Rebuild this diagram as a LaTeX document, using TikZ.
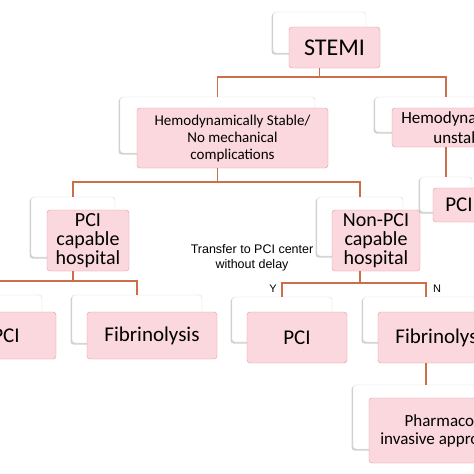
\documentclass[tikz,border=0pt]{standalone}
\usepackage{fontspec}
\setmainfont{Carlito}
\newfontfamily\notefont{Liberation Sans}
\usetikzlibrary{shadows}
\definecolor{cardfill}{RGB}{250,216,221}
\definecolor{cardline}{RGB}{230,150,160}
\definecolor{linkcol}{RGB}{205,110,75}
\newcommand{\fs}[1]{\fontsize{#1}{#1}\selectfont}

\begin{document}
\begin{tikzpicture}[x=1pt, y=-1pt,
  back/.style={draw=black!15, fill=white, rounded corners=3pt, inner sep=0pt,
    drop shadow={shadow xshift=-1.5pt, shadow yshift=-1.5pt, fill=black!30, opacity=0.6}},
  card/.style={draw=cardline, fill=cardfill, rounded corners=3pt, inner sep=0pt,
    align=center, text=black},
  link/.style={draw=linkcol, line width=1.3pt},
  note/.style={font=\notefont\fontsize{12.5}{15}\selectfont, align=center, text=black}]
  \useasboundingbox (0,0) rectangle (474,474);
  \clip (0,0) rectangle (474,474);
  % STEMI
  \node[back, minimum width=93, minimum height=41] (stemiB) at (319.5,32.5) {};
  \node[card, minimum width=91, minimum height=41, font=\fs{24}] (stemi) at (334.5,47.5) {STEMI};
  % stable branch
  \node[back, minimum width=195, minimum height=56] (stableB) at (217.5,125) {};
  \node[card, minimum width=191, minimum height=60, font=\fontsize{15}{17}\selectfont] (stable) at (232.5,138)
    {Hemodynamically Stable/\\No mechanical\\complications};
  % unstable branch
  \node[back, minimum width=142, minimum height=35] (unstableB) at (446,114.5) {};
  \node[card, minimum width=142, minimum height=39, font=\fontsize{17}{20}\selectfont] (unstable) at (463,127.5)
    {Hemodynamically\\unstable};
  \node[back, minimum width=52, minimum height=35] (pcicB) at (446,194.5) {};
  \node[card, minimum width=52, minimum height=34, font=\fs{21}] (pcic) at (459,205) {PCI};
  % PCI capable hospital
  \node[back, minimum width=84, minimum height=60] (pcihB) at (73,227) {};
  \node[card, minimum width=82, minimum height=61, font=\fontsize{20}{19}\selectfont] (pcih) at (88,240.5)
    {PCI\\capable\\hospital};
  % Non-PCI capable hospital
  \node[back, minimum width=86, minimum height=59] (nonpciB) at (360,226.5) {};
  \node[card, minimum width=88, minimum height=61, font=\fontsize{20}{19}\selectfont] (nonpci) at (376,240.5)
    {Non-PCI\\capable\\hospital};
  \node[note] (transfer) at (252,258) {Transfer to PCI center\\without delay};
  % treatments
  \node[back, minimum width=100, minimum height=48] (pciaB) at (-8,319) {};
  \node[card, minimum width=100, minimum height=47, font=\fs{21}] (pcia) at (6,335.5) {PCI};
  \node[back, minimum width=130, minimum height=48] (fibaB) at (137,319) {};
  \node[card, minimum width=130, minimum height=47, font=\fs{21}] (fiba) at (152,335.5) {Fibrinolysis};
  \node[back, minimum width=100, minimum height=45] (pcibB) at (282,319.5) {};
  \node[card, minimum width=100, minimum height=51, font=\fs{21}] (pcib) at (297,337.5) {PCI};
  \node[back, minimum width=126, minimum height=45] (fibbB) at (426,319.5) {};
  \node[card, minimum width=130, minimum height=51, font=\fs{21}] (fibb) at (443,337.5) {Fibrinolysis};
  \node[back, minimum width=146, minimum height=64] (pharmB) at (426,417) {};
  \node[card, minimum width=146, minimum height=65, font=\fontsize{17}{18}\selectfont] (pharm) at (442,430.5)
    {Pharmaco-\\invasive approach};
  % Y / N
  \node[note, font=\notefont\fontsize{11}{13}\selectfont] (yes) at (273,289) {Y};
  \node[note, font=\notefont\fontsize{11}{13}\selectfont] (no) at (437,289) {N};
  % connectors
  \coordinate (j1) at (319.5,77);
  \coordinate (j2) at (217.5,182);
  \coordinate (j3) at (73,281);
  \coordinate (j4) at (360,283);
  \draw[link] (stemiB |- stemi.south) -- (j1);
  \draw[link] (stableB.north) |- (j1) -| (unstableB.north);
  \draw[link] (stableB |- stable.south) -- (j2);
  \draw[link] (pcihB.north) |- (j2) -| (nonpciB.north);
  \draw[link] (unstableB |- unstable.south) -- (pcicB.north);
  \draw[link] (pcihB |- pcih.south) -- (j3);
  \draw[link] (pciaB.north) |- (j3) -| (fibaB.north);
  \draw[link] (nonpciB |- nonpci.south) -- (j4);
  \draw[link] (pcibB.north) |- (j4) -| (fibbB.north);
  \draw[link] (fibbB |- fibb.south) -- (pharmB.north);
\end{tikzpicture}
\end{document}
